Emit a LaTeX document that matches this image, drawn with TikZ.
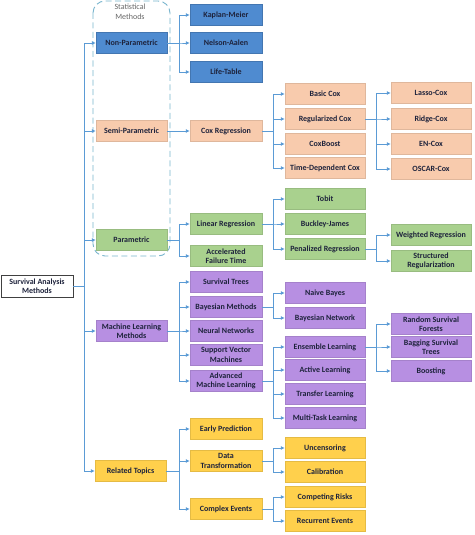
\documentclass[tikz,border=0pt]{standalone}
\usepackage{fontspec}
\setmainfont{Carlito}
\usetikzlibrary{arrows.meta}
\definecolor{cblue}{RGB}{79,139,208}
\definecolor{cpeach}{RGB}{248,203,173}
\definecolor{cgreen}{RGB}{169,209,142}
\definecolor{cpurple}{RGB}{183,143,226}
\definecolor{cyellow}{RGB}{255,208,76}
\definecolor{lblue}{RGB}{91,155,213}
\definecolor{dashc}{RGB}{120,180,205}
\definecolor{ctext}{RGB}{30,35,60}
\begin{document}
\begin{tikzpicture}[x=1pt,y=-1pt,
  box/.style={rectangle, minimum height=21pt, inner sep=1pt, align=center,
    font=\fontsize{8}{9.5}\selectfont\bfseries, text=ctext, line width=0.4pt},
  wa/.style={minimum width=71pt},
  wb/.style={minimum width=72pt},
  wc/.style={minimum width=80pt},
  bl/.style={box, fill=cblue, draw=cblue!85!black},
  pe/.style={box, fill=cpeach, draw=cpeach!90!black},
  gr/.style={box, fill=cgreen, draw=cgreen!90!black},
  pu/.style={box, fill=cpurple, draw=cpurple!90!black},
  ye/.style={box, fill=cyellow, draw=cyellow!90!black},
  arr/.style={draw=lblue, line width=0.9pt, -{Latex[length=4pt,width=4pt]}}]
\useasboundingbox (0,0) rectangle (474,535);
% statistical methods group
\draw[dashc, line width=0.9pt, dash pattern=on 6pt off 3.5pt, rounded corners=12pt] (93,1) rectangle (170,256);
\node[font=\fontsize{8}{9.5}\selectfont, text=black!60, align=center] (stat) at (130,12) {Statistical\\Methods};
% root
\node[box, wb, draw=black!75, fill=white, line width=0.9pt, minimum height=22pt] (root) at (37,286) {Survival Analysis\\Methods};
% column 1
\node[bl, wa] (np) at (131.5,43) {Non-Parametric};
\node[pe, wa] (sp) at (131.5,131) {Semi-Parametric};
\node[gr, wa] (par) at (131.5,240) {Parametric};
\node[pu, wa] (ml) at (131.5,331) {Machine Learning\\Methods};
\node[ye, wa] (rt) at (130.5,471) {Related Topics};
% column 2
\node[bl, wb] (km) at (226,15) {Kaplan-Meier};
\node[bl, wb] (na) at (226,43) {Nelson-Aalen};
\node[bl, wb] (lt) at (226,72) {Life-Table};
\node[pe, wb] (cox) at (226,131) {Cox Regression};
\node[gr, wb] (lr) at (226,224) {Linear Regression};
\node[gr, wb] (aft) at (226,256) {Accelerated\\Failure Time};
\node[pu, wb] (st) at (226,282) {Survival Trees};
\node[pu, wb] (bm) at (226,307) {Bayesian Methods};
\node[pu, wb] (nn) at (226,331) {Neural Networks};
\node[pu, wb] (svm) at (226,355) {Support Vector\\Machines};
\node[pu, wb] (aml) at (226,381) {Advanced\\Machine Learning};
\node[ye, wb] (ep) at (226,429) {Early Prediction};
\node[ye, wb] (dt) at (226,461) {Data\\Transformation};
\node[ye, wb] (ce) at (226,509) {Complex Events};
% column 3
\node[pe, wc] (bc) at (325,94) {Basic Cox};
\node[pe, wc] (rc) at (325,119) {Regularized Cox};
\node[pe, wc] (cb) at (325,144) {CoxBoost};
\node[pe, wc] (td) at (325,168) {Time-Dependent Cox};
\node[gr, wc] (tob) at (325,199) {Tobit};
\node[gr, wc] (bj) at (325,224) {Buckley-James};
\node[gr, wc] (pr) at (325,249) {Penalized Regression};
\node[pu, wc] (nb) at (325,293) {Naive Bayes};
\node[pu, wc] (bn) at (325,318) {Bayesian Network};
\node[pu, wc] (el) at (325,347) {Ensemble Learning};
\node[pu, wc] (al) at (325,370) {Active Learning};
\node[pu, wc] (tl) at (325,394) {Transfer Learning};
\node[pu, wc] (mtl) at (325,418) {Multi-Task Learning};
\node[ye, wc] (unc) at (325,448) {Uncensoring};
\node[ye, wc] (cal) at (325,472) {Calibration};
\node[ye, wc] (cr) at (325,497) {Competing Risks};
\node[ye, wc] (re) at (325,521) {Recurrent Events};
% column 4
\node[pe, wc] (lc) at (431,93) {Lasso-Cox};
\node[pe, wc] (rdc) at (431,119) {Ridge-Cox};
\node[pe, wc] (enc) at (431,144) {EN-Cox};
\node[pe, wc] (oc) at (431,169) {OSCAR-Cox};
\node[gr, wc] (wr) at (431,235) {Weighted Regression};
\node[gr, wc] (sr) at (431,261) {Structured\\Regularization};
\node[pu, wc] (rsf) at (431,324) {Random Survival\\Forests};
\node[pu, wc] (bst) at (431,347) {Bagging Survival\\Trees};
\node[pu, wc] (boo) at (431,371) {Boosting};
% connectors
\foreach \c in {np,sp,par,ml,rt} \draw[arr] (root.east) -- ++(11,0) |- (\c.west);
\foreach \c in {km,na,lt} \draw[arr] (np.east) -- ++(12,0) |- (\c.west);
\draw[arr] (sp) -- (cox);
\foreach \c in {lr,aft} \draw[arr] (par.east) -- ++(12,0) |- (\c.west);
\foreach \c in {st,bm,nn,svm,aml} \draw[arr] (ml.east) -- ++(12,0) |- (\c.west);
\foreach \c in {ep,dt,ce} \draw[arr] (rt.east) -- ++(13,0) |- (\c.west);
\foreach \c in {bc,rc,cb,td} \draw[arr] (cox.east) -- ++(11,0) |- (\c.west);
\foreach \c in {tob,bj,pr} \draw[arr] (lr.east) -- ++(11,0) |- (\c.west);
\foreach \c in {nb,bn} \draw[arr] (bm.east) -- ++(11,0) |- (\c.west);
\foreach \c in {el,al,tl,mtl} \draw[arr] (aml.east) -- ++(11,0) |- (\c.west);
\foreach \c in {unc,cal} \draw[arr] (dt.east) -- ++(11,0) |- (\c.west);
\foreach \c in {cr,re} \draw[arr] (ce.east) -- ++(11,0) |- (\c.west);
\foreach \c in {lc,rdc,enc,oc} \draw[arr] (rc.east) -- ++(11,0) |- (\c.west);
\foreach \c in {wr,sr} \draw[arr] (pr.east) -- ++(11,0) |- (\c.west);
\foreach \c in {rsf,bst,boo} \draw[arr] (el.east) -- ++(11,0) |- (\c.west);
\end{tikzpicture}
\end{document}
